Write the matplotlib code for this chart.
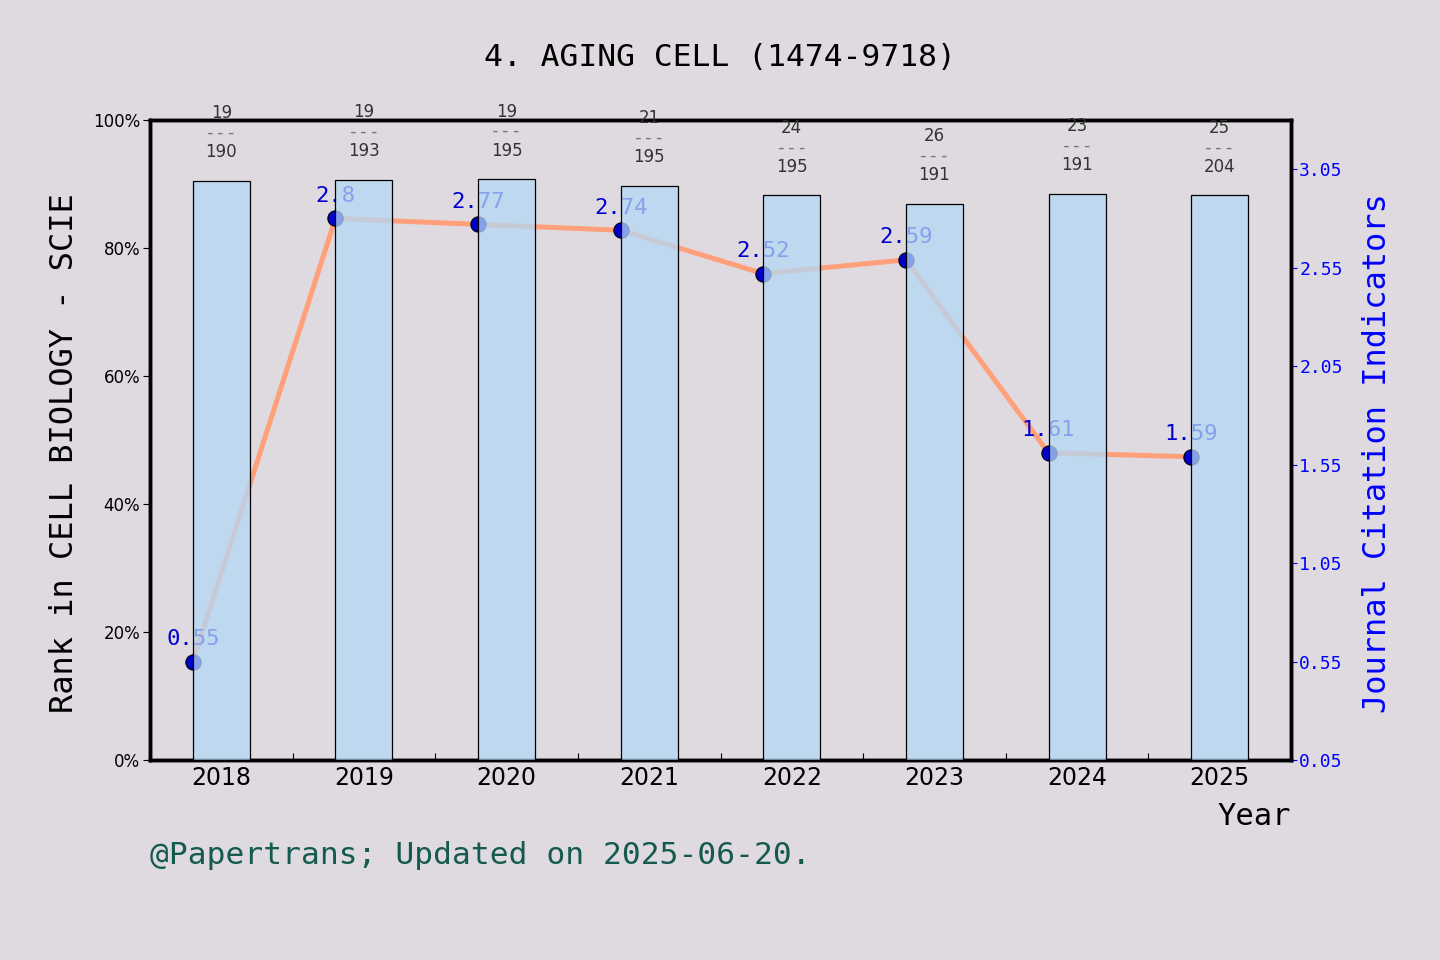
import numpy as np
import matplotlib
matplotlib.use("Agg")
import matplotlib.pyplot as plt
import matplotlib.ticker as mticker

YEARS = ["2018", "2019", "2020", "2021", "2022", "2023", "2024", "2025"]
RANKS = [19, 19, 19, 21, 24, 26, 23, 25]
TOTALS = [190, 193, 195, 195, 195, 191, 191, 204]
JCI = [0.55, 2.8, 2.77, 2.74, 2.52, 2.59, 1.61, 1.59]

BG = "#dedae0"
MONO = "DejaVu Sans Mono"

pct = [(n - r + 1) / n * 100 for r, n in zip(RANKS, TOTALS)]
xs = np.arange(len(YEARS))

fig = plt.figure(figsize=(14.4, 9.6), dpi=100, facecolor=BG)
ax = fig.add_axes([0.1042, 0.2083, 0.7923, 0.6667])
ax2 = ax.twinx()

# bars live on ax, drawn on top of the line axis so the line shows through them
ax.set_zorder(ax2.get_zorder() + 1)
ax.patch.set_visible(False)
ax2.patch.set_facecolor("white")

ax.bar(xs, pct, width=0.4, color=(180 / 255, 216 / 255, 246 / 255), alpha=0.75,
       edgecolor="none", zorder=3)
ax.bar(xs, pct, width=0.4, color="none", edgecolor="black", linewidth=0.9, zorder=3.5)
for x, p, r, n in zip(xs, pct, RANKS, TOTALS):
    ax.annotate(str(n), (x, p), xytext=(0, 14), textcoords="offset points",
                ha="center", va="bottom", fontsize=12, color="#333333")
    ax.annotate("---", (x, p), xytext=(0, 28), textcoords="offset points",
                ha="center", va="bottom", fontsize=13, family=MONO, color="#777777")
    ax.annotate(str(r), (x, p), xytext=(0, 42), textcoords="offset points",
                ha="center", va="bottom", fontsize=12, color="#333333")

ax.set_xlim(-0.5, 7.5)
ax.set_ylim(0, 100)
ax.set_xticks(xs)
ax.set_xticklabels(YEARS, fontsize=17)
ax.set_xticks(xs[:-1] + 0.5, minor=True)
ax.tick_params(axis="x", which="major", length=0, pad=4)
ax.tick_params(axis="x", which="minor", direction="in", length=5, width=0.8)
ax.set_yticks([0, 20, 40, 60, 80, 100])
ax.yaxis.set_major_formatter(mticker.FuncFormatter(lambda v, _: f"{v:.0f}%"))
ax.tick_params(axis="y", labelsize=12, length=5, width=0.8, pad=2)
ax.set_ylabel("Rank in CELL BIOLOGY - SCIE", fontsize=23, family=MONO)
ax.yaxis.set_label_coords(-0.061, 0.48)
for s in ax.spines.values():
    s.set_linewidth(2.5)

ax2.plot(xs - 0.2, JCI, color="#ffa07a", linewidth=3.6, marker="o", markersize=11,
         markerfacecolor="#0000cd", markeredgecolor="black", markeredgewidth=0.8, zorder=2)
for x, v in zip(xs, JCI):
    ax2.annotate(f"{v}", (x - 0.2, v), xytext=(0, 9), textcoords="offset points",
                 ha="center", va="bottom", fontsize=16, family=MONO, color="#0000cd")
ax2.set_ylim(0.05, 3.30)
ax2.set_yticks([0.05, 0.55, 1.05, 1.55, 2.05, 2.55, 3.05])
ax2.yaxis.set_major_formatter(mticker.FuncFormatter(lambda v, _: f"{v:.2f}"))
ax2.tick_params(axis="y", labelsize=13, colors="blue", length=4, width=0.8, pad=2)
for lab in ax2.get_yticklabels():
    lab.set_family(MONO)
ax2.set_ylabel("Journal Citation Indicators", fontsize=23, family=MONO, color="blue")
ax2.yaxis.set_label_coords(1.062, 0.48)
for s in ax2.spines.values():
    s.set_linewidth(2.5)

fig.text(0.5, 0.94, "4. AGING CELL (1474-9718)", ha="center", va="center",
         fontsize=22.5, family=MONO)
fig.text(0.8965, 0.149, "Year", ha="right", va="center", fontsize=22, family=MONO)
fig.text(0.1042, 0.109, "@Papertrans; Updated on 2025-06-20.", ha="left", va="center",
         fontsize=22.5, family=MONO, color="#145a50")

fig.savefig("out.png", dpi=100, facecolor=BG)
